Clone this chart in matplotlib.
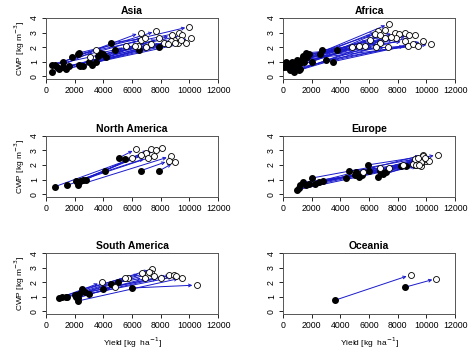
import matplotlib
matplotlib.use('Agg')
import matplotlib.pyplot as plt

plt.rcParams['font.family'] = ['Liberation Sans', 'DejaVu Sans']

# start (black) and end (white) of each arrow, per region
asia_x0 = [400, 400, 600, 900, 1200, 1200, 1400, 1600, 1800, 2200, 2300, 2400, 2600, 2300, 3200, 3500, 3600, 3800, 4000, 4200, 4500, 4800, 6500, 7900, 800, 3000]
asia_y0 = [0.3, 0.8, 0.8, 0.5, 0.6, 1.0, 0.5, 0.7, 1.3, 1.5, 0.8, 0.7, 0.7, 1.6, 0.8, 1.0, 1.4, 1.6, 1.5, 1.3, 2.3, 1.8, 1.8, 2.0, 0.6, 1.0]
asia_x1 = [9800, 6600, 7300, 8500, 7000, 6600, 9200, 8200, 7700, 9300, 6400, 8900, 8700, 10000, 6200, 5600, 8800, 9500, 10100, 7900, 6900, 9000, 8500, 9400, 3500, 3100]
asia_y1 = [2.3, 2.5, 2.2, 2.2, 2.0, 3.0, 2.3, 2.3, 3.1, 3.0, 2.1, 2.5, 2.4, 3.4, 2.1, 2.1, 2.8, 2.8, 2.6, 2.6, 2.6, 2.3, 2.2, 2.5, 1.8, 1.3]

africa_x0 = [100, 300, 500, 600, 700, 800, 900, 1000, 1100, 1200, 1200, 1400, 1500, 1600, 1800, 2000, 2600, 2700, 3000, 3500, 3800, 700, 200, 1300, 400, 1700]
africa_y0 = [0.6, 0.6, 0.4, 1.0, 0.9, 0.3, 0.7, 1.1, 0.4, 0.5, 0.9, 1.4, 1.0, 1.6, 1.5, 1.0, 1.5, 1.8, 1.1, 1.0, 1.8, 0.5, 1.0, 1.2, 0.8, 1.3]
africa_x1 = [7400, 6600, 7100, 6400, 7800, 8100, 8500, 8800, 9200, 7900, 7500, 7100, 6800, 6500, 5700, 5300, 4800, 8500, 8700, 9100, 9400, 9800, 10300, 7300, 6800, 6100]
africa_y1 = [3.6, 3.1, 3.2, 2.9, 3.0, 2.9, 3.0, 2.8, 2.8, 2.6, 2.7, 2.6, 2.3, 2.0, 2.1, 2.1, 2.0, 2.4, 2.1, 2.2, 2.1, 2.4, 2.2, 2.0, 2.8, 2.5]

na_x0 = [600, 1500, 2100, 2200, 2400, 2600, 2800, 4100, 5100, 5500, 6600, 7900]
na_y0 = [0.5, 0.6, 0.9, 0.6, 0.9, 1.0, 1.0, 1.6, 2.5, 2.4, 1.6, 1.6]
na_x1 = [7000, 8100, 7100, 8700, 6600, 7500, 6000, 7300, 6300, 7700, 8600, 9000]
na_y1 = [2.8, 3.2, 2.5, 2.6, 2.7, 2.6, 2.5, 3.1, 3.1, 3.0, 2.3, 2.2]

eu_x0 = [1000, 1100, 1200, 1400, 1600, 1800, 2000, 2200, 2500, 2800, 4400, 4600, 5000, 5100, 5300, 5500, 5900, 6000, 6600, 6800, 7200, 8200, 8600, 7000]
eu_y0 = [0.3, 0.4, 0.6, 0.8, 0.6, 0.7, 1.1, 0.7, 0.8, 0.9, 1.1, 1.6, 1.3, 1.5, 1.2, 1.3, 2.0, 1.6, 1.2, 1.6, 1.5, 1.9, 1.9, 1.4]
eu_x1 = [9200, 9300, 9500, 9600, 9400, 9800, 10800, 9100, 9700, 10000, 5600, 6800, 9300, 9500, 7400, 9200, 9800, 8400, 9600, 10000, 9400, 10200, 9900, 9500]
eu_y1 = [2.0, 2.1, 2.2, 1.9, 2.3, 2.7, 2.7, 2.1, 2.2, 2.3, 1.5, 1.8, 2.0, 2.3, 1.8, 2.4, 2.6, 2.0, 2.2, 2.4, 2.5, 2.3, 2.5, 2.0]

sa_x0 = [900, 1100, 1400, 1500, 2000, 2100, 2200, 2200, 2300, 2500, 2700, 3000, 4000, 4500, 5000, 6000]
sa_y0 = [0.9, 1.0, 1.0, 1.0, 1.1, 1.0, 0.7, 0.9, 1.2, 1.5, 1.3, 1.2, 1.5, 1.9, 2.0, 1.6]
sa_x1 = [3900, 7400, 5700, 8600, 7300, 8000, 9500, 4800, 7200, 6700, 8900, 9100, 7500, 6900, 5500, 10500]
sa_y1 = [2.0, 2.9, 2.3, 2.5, 2.6, 2.3, 2.3, 1.7, 2.7, 2.6, 2.5, 2.4, 2.4, 2.3, 2.3, 1.8]

oc_x0 = [3600, 8500]
oc_y0 = [0.75, 1.65]
oc_x1 = [8900, 10700]
oc_y1 = [2.5, 2.25]

regions = [
    ('Asia', asia_x0, asia_y0, asia_x1, asia_y1),
    ('Africa', africa_x0, africa_y0, africa_x1, africa_y1),
    ('North America', na_x0, na_y0, na_x1, na_y1),
    ('Europe', eu_x0, eu_y0, eu_x1, eu_y1),
    ('South America', sa_x0, sa_y0, sa_x1, sa_y1),
    ('Oceania', oc_x0, oc_y0, oc_x1, oc_y1),
]

fig = plt.figure(figsize=(4.74, 3.53), dpi=100)
lefts = [0.097, 0.597]
bottoms = [0.776, 0.442, 0.110]

for i, (name, x0, y0, x1, y1) in enumerate(regions):
    row, col = i // 2, i % 2
    ax = fig.add_axes([lefts[col], bottoms[row], 0.363, 0.173])
    for a, b, c, d in zip(x0, y0, x1, y1):
        ax.annotate('', xy=(c, d), xytext=(a, b),
                    arrowprops=dict(arrowstyle='->', color='#1a1acc', lw=0.7,
                                    shrinkA=0, shrinkB=3, mutation_scale=5))
    ax.plot(x0, y0, 'o', color='black', ms=4, zorder=3)
    ax.plot(x1, y1, 'o', mfc='white', mec='black', mew=0.6, ms=4.3, zorder=4)
    ax.set_xlim(0, 12000)
    ax.set_ylim(-0.2, 4)
    ax.set_xticks(range(0, 12001, 2000))
    ax.set_yticks([0, 1, 2, 3, 4])
    ax.tick_params(labelsize=6.3, length=3, width=0.6, pad=2)
    for lab in ax.get_yticklabels():
        lab.set_rotation(90)
        lab.set_va('center')
    for s in ax.spines.values():
        s.set_color('#555555')
        s.set_linewidth(0.7)
    ax.set_title(name, fontsize=7.5, fontweight='bold', pad=3)
    if col == 0:
        ax.set_ylabel('CWP [kg m$^{-3}$]', fontsize=6, labelpad=2)
    if row == 2:
        ax.set_xlabel('Yield [kg  ha$^{-1}$]', fontsize=6, labelpad=4)

fig.savefig('out.png', dpi=100)
